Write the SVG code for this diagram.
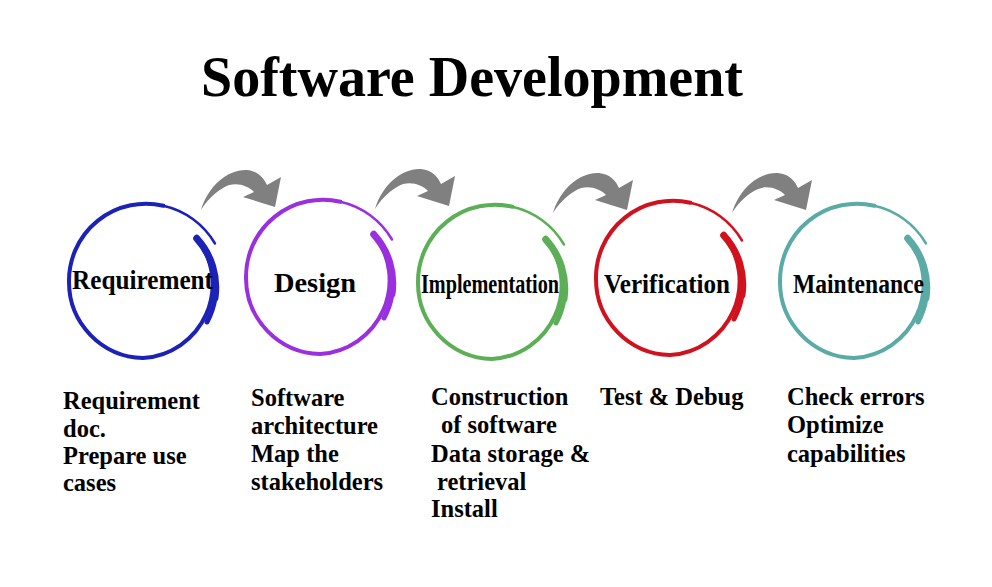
<svg xmlns="http://www.w3.org/2000/svg" xmlns:xlink="http://www.w3.org/1999/xlink" width="992" height="587" viewBox="0 0 992 587">
<style>
  text { font-family: "Liberation Serif", "Times New Roman", serif; font-weight: bold; fill: #000; }
  .title { font-size: 56px; }
  .label { font-size: 28px; }
  .desc { font-size: 24.5px; }
  .ring path { fill: none; stroke: currentColor; stroke-linecap: round; }
  .arrow { fill: #808080; }
</style>
<defs>
  <g id="ring" class="ring">
    <path d="M 53.7,-43.7 A 74 74 0 0 1 0,76 A 76 76 0 0 1 -74,0 A 77 77 0 0 1 20.4,-76.3" stroke-width="4"/>
    <path d="M 53.7,-43.7 A 73 73 0 0 1 72,16" stroke-width="7" stroke-linecap="butt"/>
    <path d="M 72,16 A 73 73 0 0 1 64,40" stroke-width="5"/>
    <path d="M 20.4,-76.3 A 80 80 0 0 1 72,-38.5" stroke-width="2.5"/>
  </g>
  <path id="arr" d="M 201,210 C 208,186 228,169 247,170 C 258,171 264,178 267,185 L 281,177 L 275,207 L 243,197 L 254,192 C 247,185 234,181 223,188 C 213,194 206,202 201,210 Z"/>
</defs>

<text class="title" x="201" y="96" textLength="542" lengthAdjust="spacingAndGlyphs">Software Development</text>

<g id="connectors" class="arrow">
  <use xlink:href="#arr"/>
  <use xlink:href="#arr" transform="translate(174,-1)"/>
  <use xlink:href="#arr" transform="translate(352,3)"/>
  <use xlink:href="#arr" transform="translate(531,3)"/>
</g>

<g id="node-requirement">
  <use xlink:href="#ring" transform="translate(143,282)" color="#1c22b5"/>
  <text class="label" x="72" y="289" textLength="141" lengthAdjust="spacingAndGlyphs">Requirement</text>
  <text class="desc" x="63" y="409">Requirement</text>
  <text class="desc" x="63" y="437">doc.</text>
  <text class="desc" x="63" y="464">Prepare use</text>
  <text class="desc" x="63" y="491">cases</text>
</g>

<g id="node-design">
  <use xlink:href="#ring" transform="translate(320,278)" color="#9a2fe0"/>
  <text class="label" x="274" y="292" textLength="82" lengthAdjust="spacingAndGlyphs">Design</text>
  <text class="desc" x="251" y="406">Software</text>
  <text class="desc" x="251" y="434">architecture</text>
  <text class="desc" x="251" y="462">Map the</text>
  <text class="desc" x="251" y="490">stakeholders</text>
</g>

<g id="node-implementation">
  <use xlink:href="#ring" transform="translate(492,283)" color="#5daf57"/>
  <text class="label" x="421" y="293" textLength="138" lengthAdjust="spacingAndGlyphs">Implementation</text>
  <text class="desc" x="431" y="405">Construction</text>
  <text class="desc" x="441" y="433">of software</text>
  <text class="desc" x="431" y="462">Data storage &amp;</text>
  <text class="desc" x="437" y="490">retrieval</text>
  <text class="desc" x="431" y="517">Install</text>
</g>

<g id="node-verification">
  <use xlink:href="#ring" transform="translate(670,279)" color="#d0121e"/>
  <text class="label" x="604" y="293" textLength="126" lengthAdjust="spacingAndGlyphs">Verification</text>
  <text class="desc" x="600" y="405">Test &amp; Debug</text>
</g>

<g id="node-maintenance">
  <use xlink:href="#ring" transform="translate(854,282)" color="#5aaba5"/>
  <text class="label" x="793" y="293" textLength="131" lengthAdjust="spacingAndGlyphs">Maintenance</text>
  <text class="desc" x="787" y="405">Check errors</text>
  <text class="desc" x="787" y="433">Optimize</text>
  <text class="desc" x="787" y="462">capabilities</text>
</g>
</svg>
